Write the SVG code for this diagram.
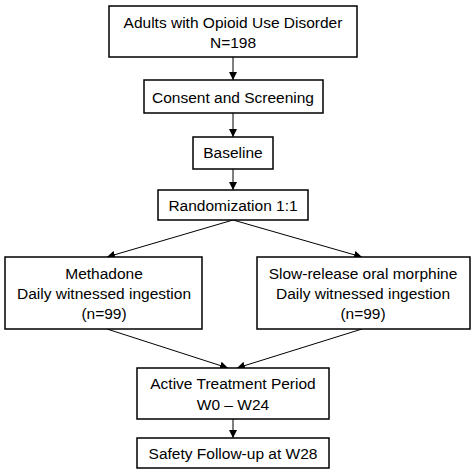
<svg xmlns="http://www.w3.org/2000/svg" width="474" height="475" viewBox="0 0 474 475">
<style>
.box{fill:#fff;stroke:#000;stroke-width:1.5}
.t{font-family:"Liberation Sans",Arial,sans-serif;font-size:15.5px;fill:#000;text-anchor:middle}
.c{stroke:#000;stroke-width:1;fill:none;marker-end:url(#ah)}
</style>
<defs>
<marker id="ah" markerWidth="8" markerHeight="8" refX="8" refY="4" orient="auto" markerUnits="userSpaceOnUse">
<path d="M0,0 L8,4 L0,8 Z" fill="#000"/>
</marker>
</defs>
<rect width="474" height="475" fill="#fff"/>
<g id="connectors">
<line class="c" x1="233" y1="57" x2="233" y2="80"/>
<line class="c" x1="233" y1="113" x2="233" y2="137"/>
<line class="c" x1="233" y1="169" x2="233" y2="190"/>
<line class="c" x1="233" y1="220" x2="107" y2="257"/>
<line class="c" x1="233" y1="220" x2="362" y2="257"/>
<line class="c" x1="107" y1="329" x2="228" y2="368"/>
<line class="c" x1="362" y1="329" x2="237" y2="368"/>
<line class="c" x1="233" y1="419" x2="233" y2="438"/>
</g>
<g id="n1"><rect class="box" x="109" y="6" width="248" height="51"/>
<text class="t" x="233" y="28">Adults with Opioid Use Disorder</text>
<text class="t" x="233" y="48">N=198</text></g>
<g id="n2"><rect class="box" x="144" y="80" width="179" height="33"/>
<text class="t" x="233" y="103">Consent and Screening</text></g>
<g id="n3"><rect class="box" x="193" y="137" width="80" height="32"/>
<text class="t" x="233" y="158">Baseline</text></g>
<g id="n4"><rect class="box" x="158" y="190" width="150" height="30"/>
<text class="t" x="233" y="211">Randomization 1:1</text></g>
<g id="n5"><rect class="box" x="5" y="257" width="197" height="72"/>
<text class="t" x="104" y="279">Methadone</text>
<text class="t" x="104" y="299">Daily witnessed ingestion</text>
<text class="t" x="104" y="319">(n=99)</text></g>
<g id="n6"><rect class="box" x="257" y="257" width="213" height="72"/>
<text class="t" x="363" y="279">Slow-release oral morphine</text>
<text class="t" x="363" y="299">Daily witnessed ingestion</text>
<text class="t" x="363" y="319">(n=99)</text></g>
<g id="n7"><rect class="box" x="137" y="368" width="192" height="51"/>
<text class="t" x="233" y="389">Active Treatment Period</text>
<text class="t" x="233" y="410">W0 – W24</text></g>
<g id="n8"><rect class="box" x="137" y="438" width="192" height="30"/>
<text class="t" x="233" y="459">Safety Follow-up at W28</text></g>
</svg>
